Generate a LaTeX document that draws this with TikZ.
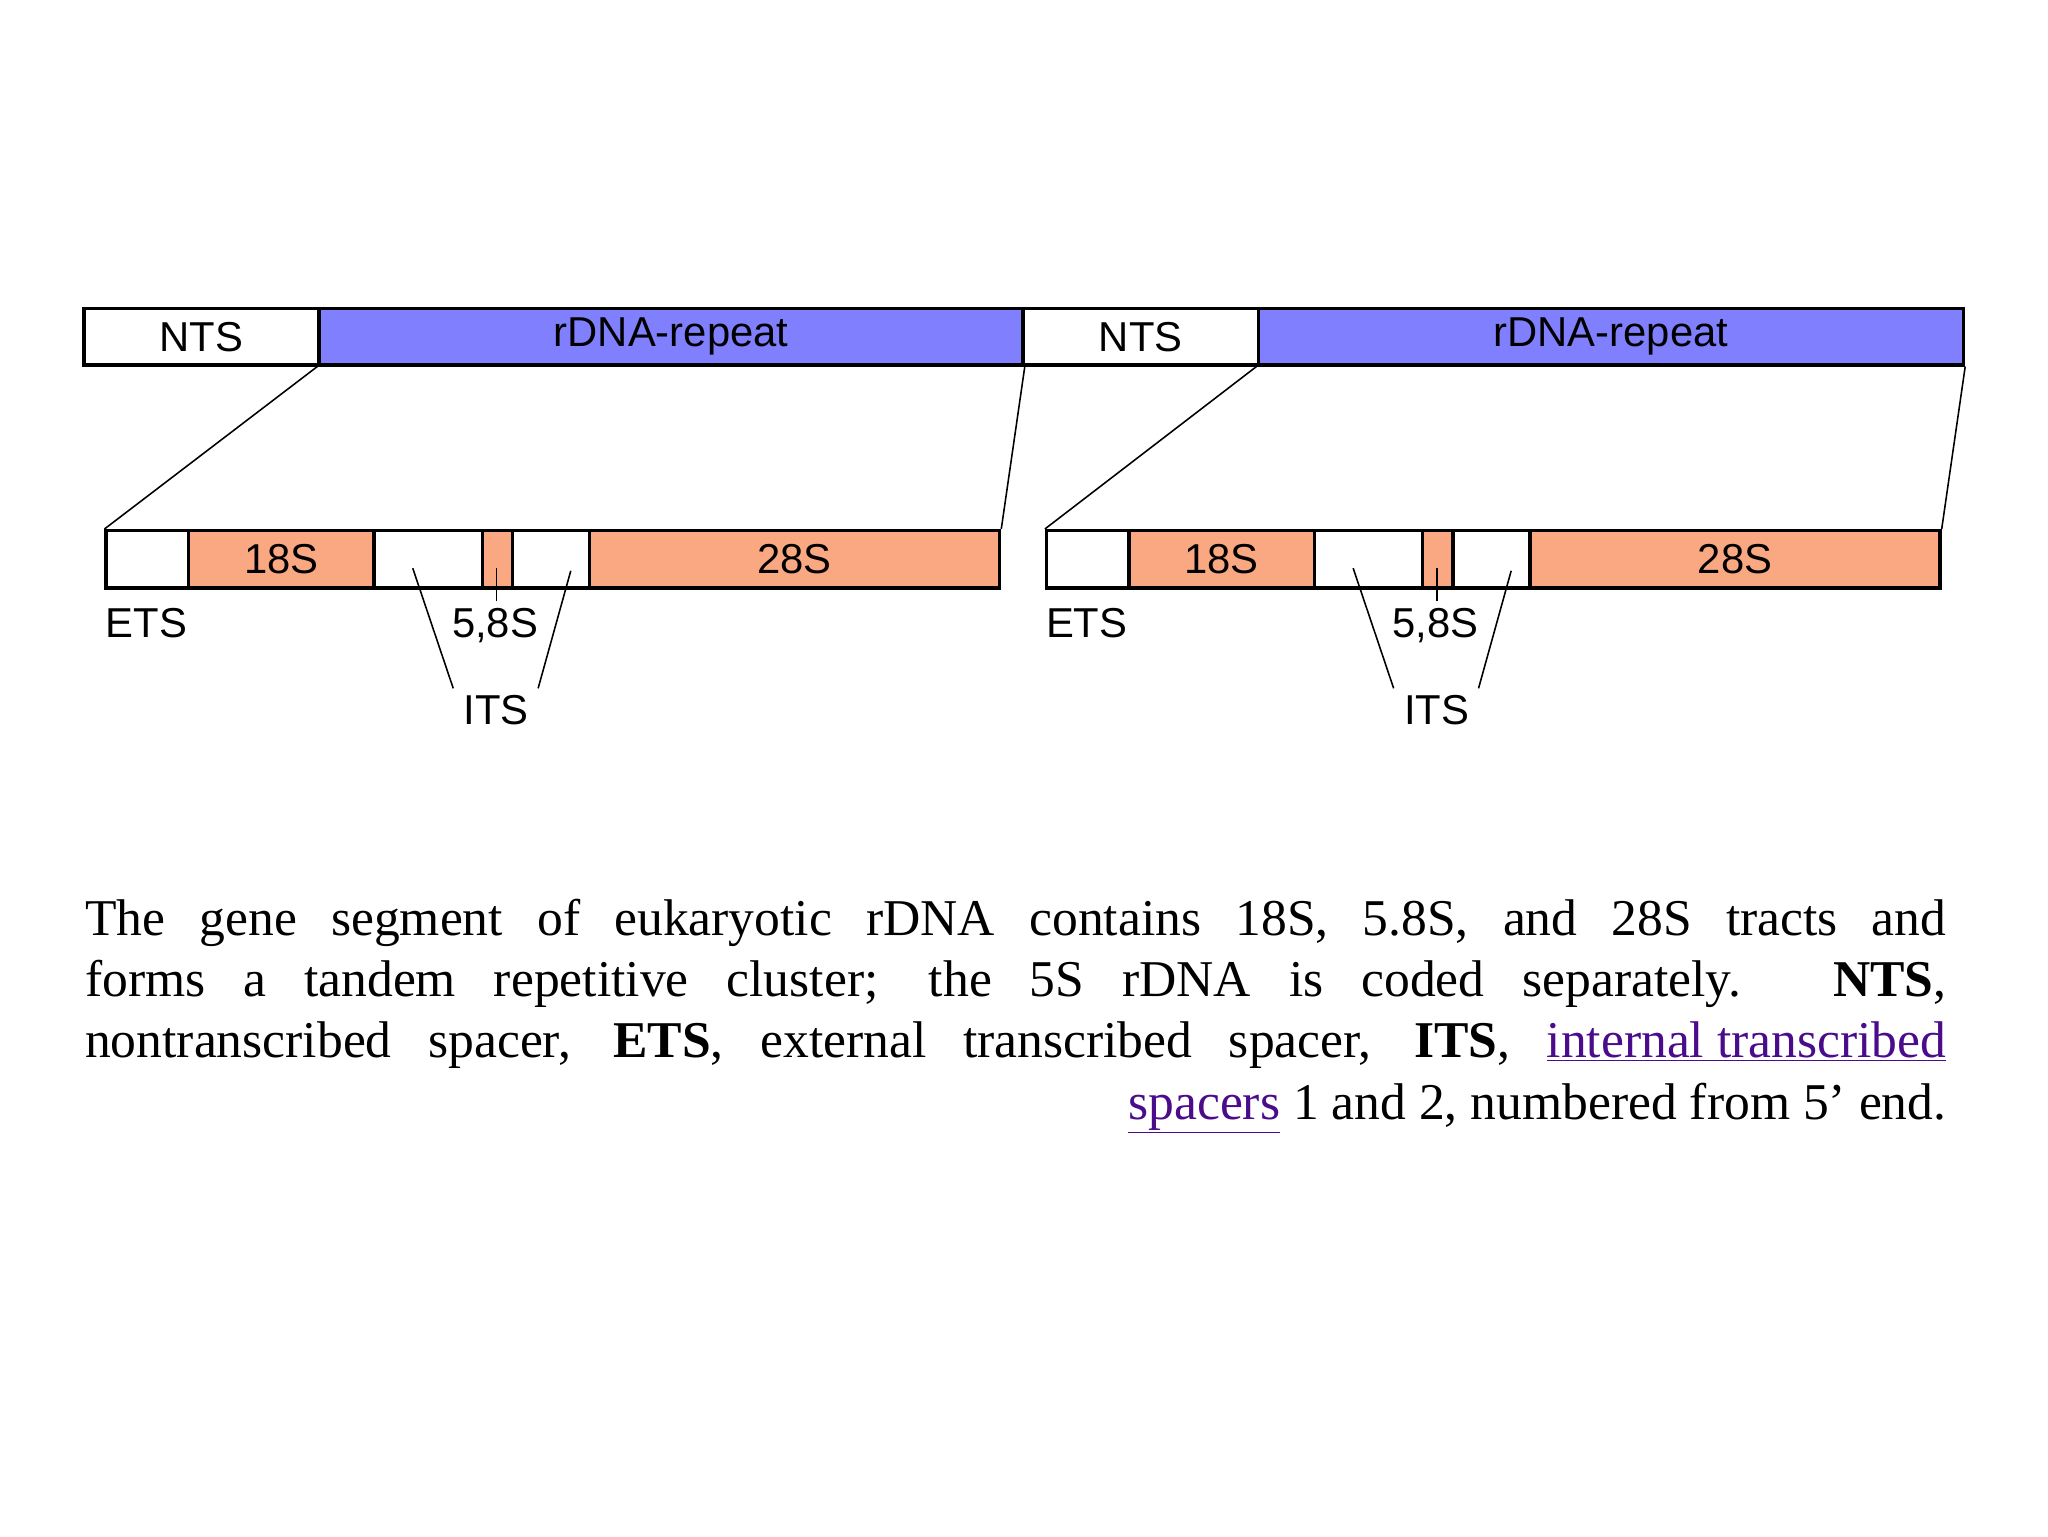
\documentclass[tikz,border=0pt]{standalone}
\usepackage{fontspec}
\setmainfont{Liberation Serif}
\newfontfamily\lab{Liberation Sans}
\definecolor{blu}{HTML}{8080FF}
\definecolor{sal}{HTML}{FAA881}
\definecolor{lnk}{HTML}{4B0C8C}
\begin{document}
\begin{tikzpicture}[x=1pt,y=-1pt,
  box/.style={draw=black,line width=2.6pt,anchor=north west,inner sep=0pt,font=\lab\fontsize{32}{32}\selectfont},
  thin/.style={line width=1.2pt},
  lbl/.style={font=\lab\fontsize{32}{32}\selectfont,inner sep=0pt}]
\useasboundingbox[fill=white] (0,0) rectangle (1568,1176);
% top bar
\node[box,fill=white,minimum width=180,minimum height=43] (nts1) at (63,235) {NTS};
\node[box,fill=blu,minimum width=539,minimum height=43] (rd1) at (243,235) {rDNA-repeat};
\node[box,fill=white,minimum width=180,minimum height=43] (nts2) at (782,235) {NTS};
\node[box,fill=blu,minimum width=540,minimum height=43] (rd2) at (962,235) {rDNA-repeat};
% lower bars
\foreach \o/\s in {0/a,720/b}{
\node[box,fill=white,minimum width=63,minimum height=44] (ets\s) at (80+\o,405) {};
\node[box,fill=sal,minimum width=142,minimum height=44] (e\s) at (143+\o,405) {18S};
\node[box,fill=white,minimum width=83,minimum height=44] (i\s) at (285+\o,405) {};
\node[box,fill=sal,minimum width=23,minimum height=44] (f\s) at (368+\o,405) {};
\node[box,fill=white,minimum width=59,minimum height=44] (j\s) at (391+\o,405) {};
\node[box,fill=sal,minimum width=314,minimum height=44] (t\s) at (450+\o,405) {28S};
\node[lbl] (etsl\s) at (112+\o,477) {ETS};
\node[lbl] (fl\s) at (379+\o,479) {5,8S};
\node[lbl] (itsl\s) at (380+\o,544) {ITS};
\coordinate (c1\s) at (316+\o,435);
\coordinate (c2\s) at (347+\o,527);
\coordinate (c3\s) at (437+\o,437);
\coordinate (c4\s) at (412+\o,527);
\coordinate (c5\s) at (380+\o,435);
\coordinate (c6\s) at (380+\o,460);
\draw[thin] (c1\s) -- (c2\s);
\draw[thin] (c3\s) -- (c4\s);
\draw[thin] (c5\s) -- (c6\s);
}
\draw[thin] (rd1.south west) -- (etsa.north west);
\draw[thin] (rd1.south east) -- (ta.north east);
\draw[thin] (rd2.south west) -- (etsb.north west);
\draw[thin] (rd2.south east) -- (tb.north east);
% caption
\node[anchor=north west,inner sep=0pt,text width=1425pt,align=justify,
  font=\fontsize{39.5}{47}\selectfont] (cap) at (65,688) {%
The gene segment of eukaryotic rDNA contains 18S, 5.8S, and 28S tracts and\linebreak
forms a tandem repetitive cluster; the 5S rDNA is coded separately. \textbf{NTS},\linebreak
nontranscribed spacer, \textbf{ETS}, external transcribed spacer, \textbf{ITS}, {\color{lnk}\underline{internal transcribed}}\linebreak
\mbox{}\hfill{\color{lnk}\underline{spacers}} 1 and 2, numbered from 5{\char"27} end.};
\end{tikzpicture}
\end{document}
